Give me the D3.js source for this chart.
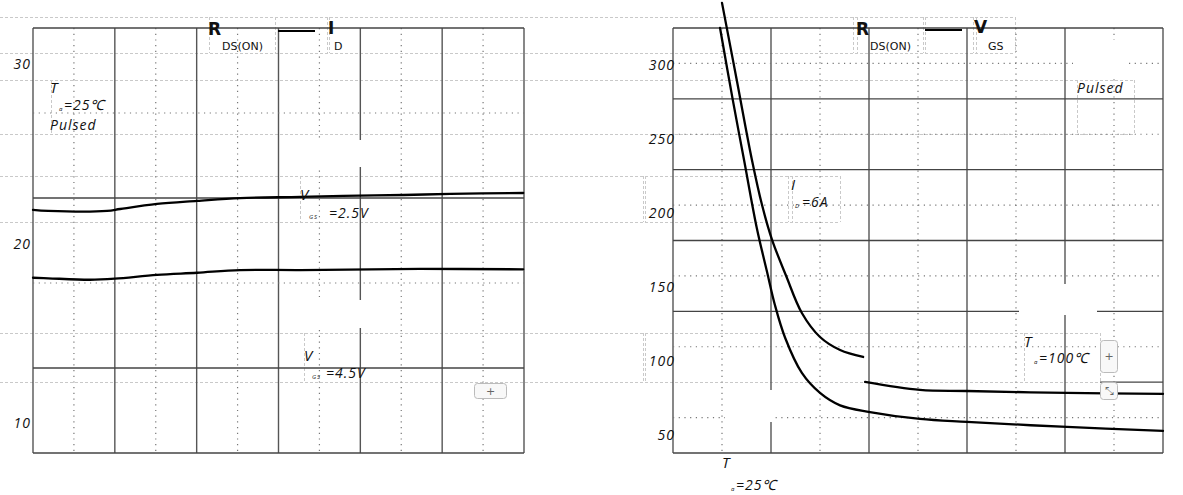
<!DOCTYPE html>
<html><head><meta charset="utf-8">
<script src="https://cdn.jsdelivr.net/npm/d3@7"></script>
<style>
html,body{margin:0;padding:0;background:#fff;}
svg{display:block;}
.hand{font-family:"Open Sans",sans-serif;font-style:italic;fill:#111;letter-spacing:1px;}
.sans{font-family:"DejaVu Sans",sans-serif;fill:#111;}
</style></head>
<body>
<svg id="c" width="1183" height="495"></svg>
<script>
// ---------- data ----------
// Left chart: R_DS(ON) vs I_D
const leftYTicks = [10, 20, 30];
const leftIdVgs25 = [0, 0.37, 1.81, 2.13, 3.03, 4.01, 5.06, 6.53, 7.58, 9.05, 10.2, 11.98];
const leftRdsVgs25 = [21.87, 21.81, 21.81, 21.92, 22.20, 22.37, 22.53, 22.59, 22.65, 22.70, 22.76, 22.81];
const leftIdVgs45 = [0, 0.37, 1.39, 2.0, 3.03, 4.01, 5.06, 6.53, 9.46, 11.98];
const leftRdsVgs45 = [18.09, 18.06, 17.98, 18.04, 18.25, 18.37, 18.52, 18.52, 18.58, 18.56];

// Right chart: R_DS(ON) vs V_GS
const rightYTicks = [50, 100, 150, 200, 250, 300];
const rightVgsTa100a = [1.0, 1.30, 1.61, 1.82, 2.02, 2.31, 2.63, 3.0, 3.41, 3.88];
const rightRdsTa100a = [342, 290, 236, 205, 182, 157.4, 132.4, 116.2, 107.4, 102.7];
const rightVgsTa100b = [3.92, 5.04, 6.0, 8.04, 10.0];
const rightRdsTa100b = [85.8, 80.4, 79.7, 78.4, 77.7];
const rightVgsTa25 = [0.96, 1.22, 1.45, 1.71, 1.92, 2.08, 2.29, 2.63, 3.0, 3.41, 4.02, 5.04, 6.0, 8.04, 10.0];
const rightRdsTa25 = [325, 276.4, 235.8, 189.9, 160.1, 137.8, 115.5, 91.9, 78.4, 70.0, 65.5, 60.8, 58.8, 55.4, 52.7];

// ---------- drawing ----------
const svg = d3.select("#c");
const TOP = 28, BOT = 453;

// scales
const xL = d3.scaleLinear().domain([0, 12]).range([33, 524]);
const yL = d3.scaleLinear().domain([8.33, 32.0]).range([BOT, TOP]);
const xR = d3.scaleLinear().domain([0, 10]).range([673, 1163]);
const yR = d3.scaleLinear().domain([37.8, 325]).range([BOT, TOP]);

// light dashed text-box borders (editor artefacts)
const dashG = svg.append("g").attr("stroke", "#c9c9c9").attr("stroke-width", 1).attr("stroke-dasharray", "3,2").attr("fill", "none");
[[17, 0, 1015], [53, 0, 1015], [80, 0, 1134], [134, 0, 1134], [176, 0, 840], [222, 0, 840], [333, 0, 1100], [382, 0, 1100]]
  .forEach(([y, a, b]) => dashG.append("line").attr("x1", a).attr("x2", b).attr("y1", y + 0.5).attr("y2", y + 0.5));
[[209, 17, 53], [275, 17, 53], [327, 17, 53], [329, 17, 53], [853, 17, 53], [857, 17, 53], [923, 17, 53], [925, 17, 53], [973, 17, 53], [976, 17, 53], [1015, 17, 53],
 [51, 80, 134], [1077, 80, 134], [1134, 80, 134], [300, 176, 222], [643, 176, 222], [645, 176, 222], [788, 176, 222], [792, 176, 222], [840, 176, 222],
 [304, 333, 382], [643, 333, 382], [645, 333, 382], [1024, 333, 382], [1100, 333, 382]]
  .forEach(([x, a, b]) => dashG.append("line").attr("x1", x + 0.5).attr("x2", x + 0.5).attr("y1", a).attr("y2", b));

function grid(x, y, nCols, nRows, skipRow) {
  const g = svg.append("g");
  const [x0, x1] = x.range();
  const cx = d3.scaleLinear().domain([0, nCols]).range([x0, x1]);
  const ry = d3.scaleLinear().domain([0, nRows]).range([TOP, BOT]);
  d3.range(0, nCols + 1).forEach(i => {
    const solid = i % 2 === 0;
    g.append("line").attr("x1", cx(i)).attr("x2", cx(i)).attr("y1", TOP).attr("y2", BOT)
      .attr("stroke", solid ? "#555" : "#777").attr("stroke-width", solid ? 1.4 : 1.2)
      .attr("stroke-dasharray", solid ? null : "1.2,4.5");
  });
  d3.range(0, nRows + 1).forEach(i => {
    const solid = i % 2 === 0 || i === nRows;
    if (skipRow && skipRow.i === i) {
      g.append("line").attr("x1", skipRow.from).attr("x2", x1).attr("y1", ry(i)).attr("y2", ry(i))
        .attr("stroke", "#444").attr("stroke-width", 1.2);
      return;
    }
    g.append("line").attr("x1", x0).attr("x2", x1).attr("y1", ry(i)).attr("y2", ry(i))
      .attr("stroke", solid ? "#444" : "#777").attr("stroke-width", solid ? 1.3 : 1.2)
      .attr("stroke-dasharray", solid ? null : "1.2,4.5");
  });
  return g;
}
grid(xL, yL, 12, 5);
grid(xR, yR, 10, 12, {i: 10, from: 1100});

// blank text boxes covering the grid
[[300, 140, 75, 27], [300, 300, 75, 28], [725, 390, 50, 32], [1019, 284, 78, 31], [1073, 40, 56, 38]]
  .forEach(([x, y, w, h]) => svg.append("rect").attr("x", x).attr("y", y).attr("width", w).attr("height", h).attr("fill", "#fff"));

// curves
function curve(x, y, xs, ys) {
  const pts = xs.map((v, i) => [v, ys[i]]);
  svg.append("path").datum(pts)
    .attr("d", d3.line().x(d => x(d[0])).y(d => y(d[1])).curve(d3.curveCatmullRom.alpha(0.5)))
    .attr("fill", "none").attr("stroke", "#000").attr("stroke-width", 2.3).attr("stroke-linecap", "round");
}
curve(xL, yL, leftIdVgs25, leftRdsVgs25);
curve(xL, yL, leftIdVgs45, leftRdsVgs45);
curve(xR, yR, rightVgsTa100a, rightRdsTa100a);
curve(xR, yR, rightVgsTa100b, rightRdsTa100b);
curve(xR, yR, rightVgsTa25, rightRdsTa25);

// y tick labels
svg.append("g").selectAll("text").data(leftYTicks).join("text")
  .attr("class", "hand").attr("x", 31).attr("y", d => yL(d)).attr("dy", "0.36em")
  .attr("text-anchor", "end").attr("font-size", 14).text(d => d);
svg.append("g").selectAll("text").data(rightYTicks).join("text")
  .attr("class", "hand").attr("x", 675).attr("y", d => yR(d)).attr("dy", "0.36em")
  .attr("text-anchor", "end").attr("font-size", 14).text(d => d);

// text helpers
function t(x, y, s, size, cls, weight) {
  return svg.append("text").attr("class", cls).attr("x", x).attr("y", y)
    .attr("font-size", size).attr("font-weight", weight || null).text(s);
}
// titles
t(208, 35, "R", 17, "sans", "bold");
t(222, 50, "DS(ON)", 11, "sans");
svg.append("line").attr("x1", 278).attr("x2", 315).attr("y1", 31).attr("y2", 31).attr("stroke", "#000").attr("stroke-width", 2);
t(328, 34, "I", 17, "sans", "bold");
t(334, 50, "D", 11, "sans");
t(856, 35, "R", 17, "sans", "bold");
t(870, 50, "DS(ON)", 11, "sans");
svg.append("line").attr("x1", 925).attr("x2", 962).attr("y1", 30).attr("y2", 30).attr("stroke", "#000").attr("stroke-width", 2);
t(974, 33, "V", 17, "sans", "bold");
t(988, 50, "GS", 11, "sans");

// annotations (left)
t(50, 93, "T", 15, "hand");
t(59, 111, "a", 6, "hand");
t(64, 110, "=25℃", 14, "hand");
t(50, 130, "Pulsed", 14, "hand");
t(300, 200, "V", 15, "hand");
t(309, 219, "GS", 6, "hand");
t(329, 218, "=2.5V", 14, "hand");
t(304, 361, "V", 15, "hand");
t(312, 379, "GS", 6, "hand");
t(326, 378, "=4.5V", 14, "hand");
// annotations (right)
t(1077, 93, "Pulsed", 14, "hand");
t(791, 190, "I", 15, "hand");
t(795, 208, "D", 6, "hand");
t(802, 207, "=6A", 14, "hand");
t(722, 468, "T", 15, "hand");
t(731, 491, "a", 6, "hand");
t(736, 490, "=25℃", 14, "hand");
t(1024, 347, "T", 15, "hand");
t(1034, 364, "a", 6, "hand");
t(1039, 363, "=100℃", 14, "hand");

// editor buttons
function btn(x, y, w, h, s) {
  svg.append("rect").attr("x", x + 0.5).attr("y", y + 0.5).attr("width", w).attr("height", h).attr("rx", 3)
    .attr("fill", "#f8f8f8").attr("stroke", "#bbb");
  svg.append("text").attr("x", x + w / 2 + 0.5).attr("y", y + h / 2 + 0.5).attr("dy", "0.35em")
    .attr("text-anchor", "middle").attr("font-family", "DejaVu Sans").attr("font-size", 11).attr("fill", "#666").text(s);
}
btn(474, 383, 32, 15, "+");
btn(1100, 340, 17, 32, "+");
btn(1100, 382, 17, 17, "⤡");
</script>
</body></html>
